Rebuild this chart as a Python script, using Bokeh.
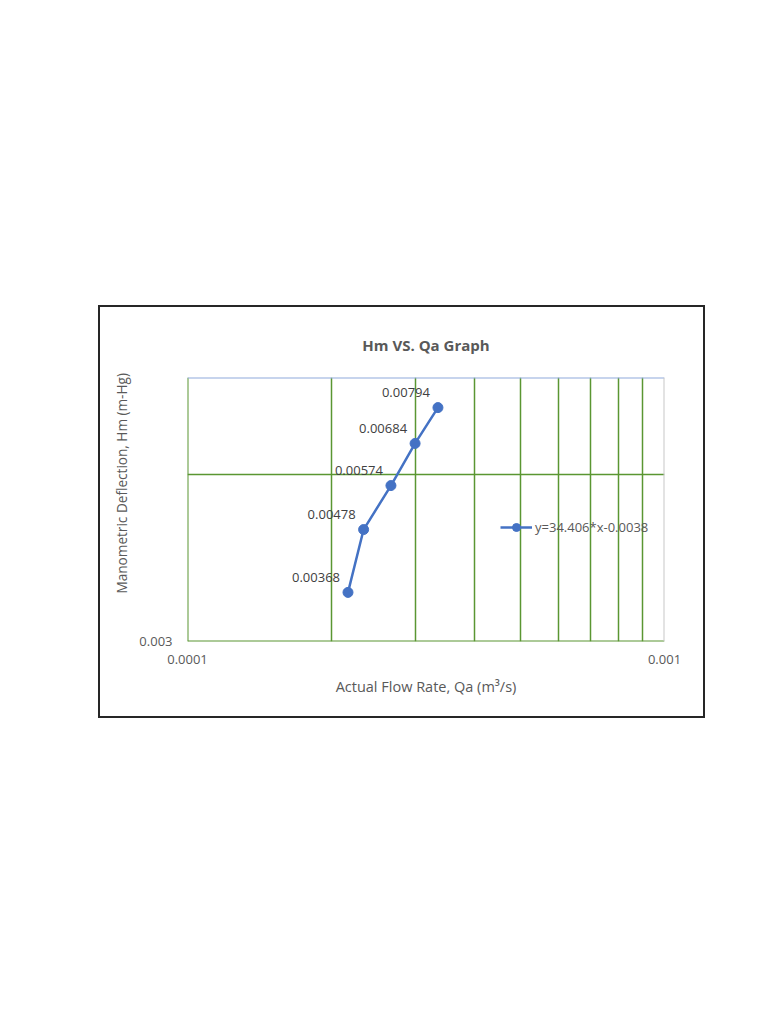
from bokeh.plotting import figure
from bokeh.models import FixedTicker, Span, Legend, LegendItem, ColumnDataSource, Title, CustomJSTickFormatter
from bokeh.core.properties import value
from bokeh.embed import file_html
from bokeh.resources import INLINE

# ---- data ----
qa = [0.000217, 0.000234, 0.000267, 0.000300, 0.000335]
hm = [0.00368, 0.00478, 0.00574, 0.00684, 0.00794]
hm_labels = ["0.00368", "0.00478", "0.00574", "0.00684", "0.00794"]
series_name = "y=34.406*x-0.0038"
title_text = "Hm VS. Qa Graph"
x_label = "Actual Flow Rate, Qa (m\u00b3/s)"
y_label = "Manometric Deflection, Hm (m-Hg)"
x_range = (0.0001, 0.001)
y_range = (0.003, 0.009)
x_ticks = [0.0001, 0.001]
y_ticks = [0.003]
x_grid_ticks = [0.0002, 0.0003, 0.0004, 0.0005, 0.0006, 0.0007, 0.0008, 0.0009]
y_grid_ticks = [0.006]

FONT = "Open Sans"
GRAY = "#595959"
GREEN = "#5a9632"
BLUE = "#4472c4"

p = figure(width=607, height=413, x_axis_type="log", y_axis_type="log",
           x_range=x_range, y_range=y_range, output_backend="svg",
           toolbar_location=None, min_border_left=87, min_border_right=43,
           min_border_top=70, min_border_bottom=79,
           margin=(305, 0, 0, 98))
p.styles = {"border": "2px solid #262626"}
p.outline_line_color = None
p.background_fill_color = "white"
p.border_fill_color = "white"

# title
p.title.text = title_text
p.title.align = "center"
p.title.text_font = FONT
p.title.text_font_size = "15px"
p.title.text_font_style = "bold"
p.title.text_color = GRAY
p.title.standoff = 45

# axes
for ax in (p.xaxis[0], p.yaxis[0]):
    ax.axis_line_color = None
    ax.major_tick_line_color = None
    ax.minor_tick_line_color = None
    ax.major_label_text_font = FONT
    ax.major_label_text_font_size = "13px"
    ax.major_label_text_color = GRAY
    ax.axis_label_text_font = FONT
    ax.axis_label_text_font_size = "14.5px"
    ax.axis_label_text_color = GRAY
    ax.axis_label_text_font_style = "normal"

p.xaxis[0].ticker = FixedTicker(ticks=x_ticks)
p.yaxis[0].ticker = FixedTicker(ticks=y_ticks)
p.xaxis[0].formatter = CustomJSTickFormatter(code="return String(Number(tick.toPrecision(6)));")
p.yaxis[0].formatter = CustomJSTickFormatter(code="return String(Number(tick.toPrecision(6)));")
p.xaxis[0].major_label_standoff = 7
p.yaxis[0].major_label_standoff = 9
p.xaxis[0].axis_label = x_label
p.xaxis[0].axis_label_standoff = 10

# y axis label as a side title (shifted upward like the reference)
p.add_layout(Title(text=y_label, align="left", offset=48, standoff=11,
                   text_font=FONT, text_font_size="13.6px", text_font_style="normal",
                   text_color=GRAY), "left")

# grid
p.xgrid.ticker = FixedTicker(ticks=x_grid_ticks)
p.ygrid.ticker = FixedTicker(ticks=y_grid_ticks)
for g in (p.xgrid, p.ygrid):
    g.grid_line_color = GREEN
    g.grid_line_width = 1.5
    g.minor_grid_line_color = None

p.add_layout(Span(location=y_range[0], dimension="width", line_color=GREEN, line_width=2))
p.add_layout(Span(location=x_range[0], dimension="height", line_color=GREEN, line_width=2))
p.add_layout(Span(location=y_range[1], dimension="width", line_color="#8faadc", line_width=2))
p.add_layout(Span(location=x_range[1], dimension="height", line_color="#c8c8c8", line_width=2))

src = ColumnDataSource(dict(x=qa, y=hm, t=hm_labels))
ln = p.line("x", "y", source=src, line_color=BLUE, line_width=2.5)
sc = p.scatter("x", "y", source=src, size=10, fill_color=BLUE, line_color=BLUE)
p.text("x", "y", text="t", source=src, x_offset=-8, y_offset=-15,
       text_align="right", text_baseline="middle", text_font=value(FONT),
       text_font_size="13px", text_color="#404040")

legend = Legend(items=[LegendItem(label=series_name, renderers=[ln, sc])],
                location=(313, 104), orientation="vertical",
                background_fill_alpha=0, border_line_color=None,
                padding=0, margin=0, spacing=0, glyph_width=32, glyph_height=20,
                label_standoff=3, label_text_font=FONT, label_text_font_size="13px",
                label_text_color=GRAY)
p.add_layout(legend, "center")

open("out.html", "w").write(file_html(p, INLINE))
